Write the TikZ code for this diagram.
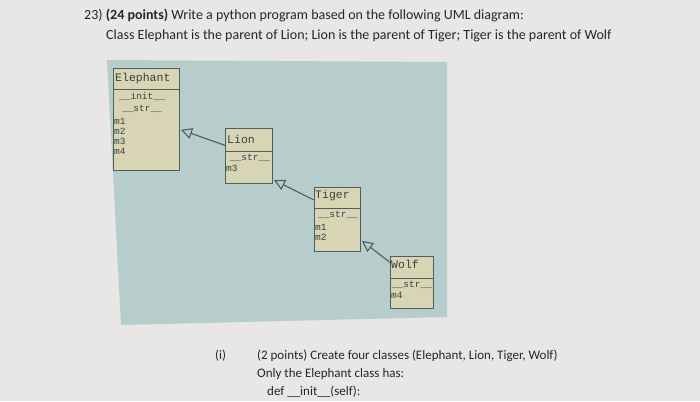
\documentclass[tikz,border=0pt]{standalone}
\usepackage{fontspec}
\setmainfont{Carlito}
\newfontfamily\umlfont{Liberation Mono}
\usetikzlibrary{calc,arrows.meta,positioning}

\definecolor{photobg}{HTML}{E8E7E5}
\definecolor{panelcol}{HTML}{B7CDCB}
\definecolor{boxfill}{HTML}{D8D5B4}
\definecolor{boxline}{HTML}{4E5E60}
\definecolor{inkcol}{HTML}{262626}

\tikzset{
  classbox/.style={draw=boxline, fill=boxfill, line width=1pt, anchor=north west, inner sep=0pt},
  divider/.style={draw=boxline, line width=0.8pt},
  headtxt/.style={font=\umlfont\fontsize{11.5}{11.5}\selectfont, text=boxline!70!black, anchor=west, inner sep=0pt},
  methtxt/.style={font=\umlfont\fontsize{9.5}{9.5}\selectfont, text=boxline!70!black, inner sep=0pt},
  inherit/.style={draw=boxline, line width=1.1pt, -{Triangle[open, length=11pt, width=11pt, line width=1.1pt]}},
  qtxt/.style={font=\fontsize{14}{14}\selectfont, text=inkcol, anchor=base west, inner sep=0pt},
  parttxt/.style={qtxt, font=\fontsize{13}{13}\selectfont}
}

\begin{document}
\begin{tikzpicture}[x=1pt, y=-1pt]
   \useasboundingbox (0,0) rectangle (700,401);
   \fill[photobg] (0,0) rectangle (700,401);
   \fill[panelcol] (107,60) -- (447,62) -- (447,317) -- (121,325) -- cycle;

   %question text
   \node[qtxt] (q1) at (84,20) {23) \textbf{(24 points)} Write a python program based on the following UML diagram:};
   \node[qtxt] (q2) at (106,40) {Class Elephant is the parent of Lion; Lion is the parent of Tiger; Tiger is the parent of Wolf};

   %class Elephant
   \node[classbox, minimum width=66pt, minimum height=102pt] (eleph) at (113,68) {};
   \draw[divider] ($(eleph.north west)+(0,21)$) -- ($(eleph.north east)+(0,21)$);
   \node[headtxt] (elephname) at (115,79) {Elephant};
   \node[methtxt] (elephinit) at (142,97) {\_\_init\_\_};
   \node[methtxt] (elephstr) at (142,109) {\_\_str\_\_};
   \node[methtxt, anchor=west] (elephm1) at (114,121) {m1};
   \node[methtxt, anchor=west] (elephm2) at (114,131) {m2};
   \node[methtxt, anchor=west] (elephm3) at (114,141) {m3};
   \node[methtxt, anchor=west] (elephm4) at (114,151) {m4};

   %class Lion
   \node[classbox, minimum width=47pt, minimum height=55pt] (lion) at (225,128) {};
   \draw[divider] ($(lion.north west)+(0,23)$) -- ($(lion.north east)+(0,23)$);
   \node[headtxt] (lionname) at (227,139) {Lion};
   \node[methtxt] (lionstr) at (250,158) {\_\_str\_\_};
   \node[methtxt, anchor=west] (lionm3) at (226,168) {m3};

   %class Tiger
   \node[classbox, minimum width=46pt, minimum height=64pt] (tiger) at (314,187) {};
   \draw[divider] ($(tiger.north west)+(0,21)$) -- ($(tiger.north east)+(0,21)$);
   \node[headtxt] (tigername) at (315,196) {Tiger};
   \node[methtxt] (tigerstr) at (338,215) {\_\_str\_\_};
   \node[methtxt, anchor=west] (tigerm1) at (315,227) {m1};
   \node[methtxt, anchor=west] (tigerm2) at (315,237) {m2};

   %class Wolf
   \node[classbox, minimum width=43pt, minimum height=52pt] (wolf) at (390,256) {};
   \draw[divider] ($(wolf.north west)+(0,22)$) -- ($(wolf.north east)+(0,22)$);
   \node[headtxt] (wolfname) at (391,264) {Wolf};
   \node[methtxt] (wolfstr) at (412,285) {\_\_str\_\_};
   \node[methtxt, anchor=west] (wolfm4) at (391,295) {m4};

   %inheritance
   \draw[inherit] ($(lion.north west)!0.31!(lion.south west)$) -- ($(eleph.north east)!0.6!(eleph.south east)+(1,0)$);
   \draw[inherit] ($(tiger.north west)!0.2!(tiger.south west)$) -- ($(lion.north east)!0.93!(lion.south east)+(1,0)$);
   \draw[inherit] ($(wolf.north west)!0.12!(wolf.south west)$) -- ($(tiger.north east)!0.83!(tiger.south east)+(1,0)$);

   %part (i)
   \node[parttxt] (parti) at (215,359) {(i)};
   \node[parttxt] (pa1) at (257,359) {(2 points) Create four classes (Elephant, Lion, Tiger, Wolf)};
   \node[parttxt] (pa2) at (257,377) {Only the Elephant class has:};
   \node[parttxt] (pa3) at (267,395) {def \_\_init\_\_(self):};
\end{tikzpicture}
\end{document}
